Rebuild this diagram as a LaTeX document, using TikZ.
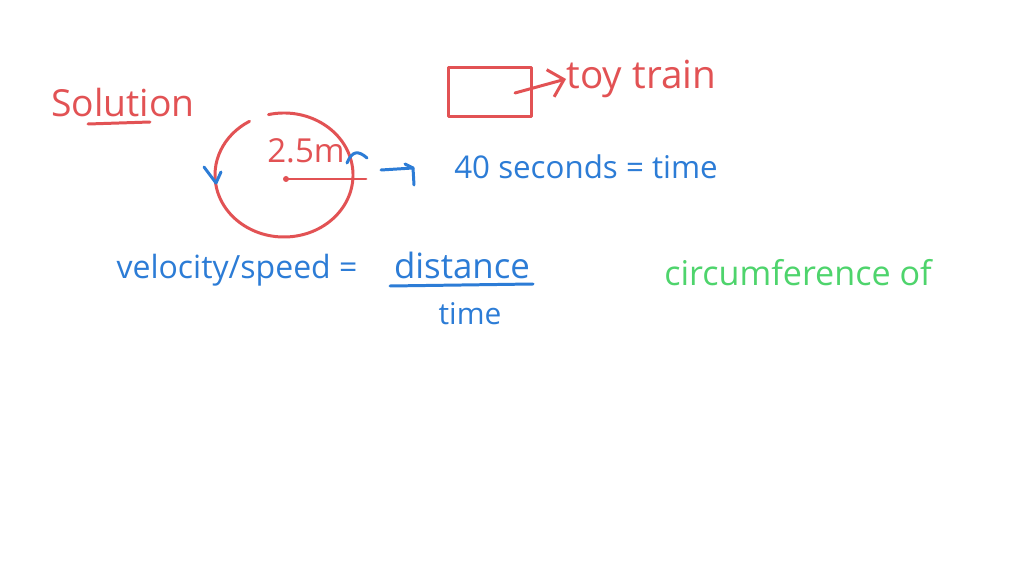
\documentclass[tikz,border=0pt]{standalone}
\usepackage{fontspec}
\setmainfont{Open Sans}
\usetikzlibrary{arrows.meta}
\definecolor{penred}{RGB}{226,82,84}
\definecolor{penblue}{RGB}{44,124,214}
\definecolor{pengreen}{RGB}{78,212,108}
\begin{document}
\begin{tikzpicture}[x=0.01cm, y=-0.01cm, line cap=round, line join=round,
    ink/.style={line width=0.85pt},
    word/.style={inner sep=0pt, anchor=center}]
    \useasboundingbox[fill=white] (0,0) rectangle (1024,576);

    % Heading
    \node[word, text=penred, font=\fontsize{10.6}{13}\selectfont] (sol) at (123,103) {Solution};
    \draw[ink, penred] (88,124) -- (150,122);

    % Track of the train
    \coordinate (ctr) at (286,179);
    \coordinate (rim) at (366,179);
    \draw[ink, penred] (284,175) ++(257:69 and 62) arc[start angle=257, end angle=600, x radius=69, y radius=62];
    \fill[penred] (ctr) circle (3);
    \draw[ink, penred] (ctr) -- (rim);
    \node[word, text=penred, font=\fontsize{9.4}{12}\selectfont] (rad) at (306,151) {2.5m};
    \draw[ink, penblue] (204,167) -- (216,183) -- (221,172);
    \draw[ink, penblue] (347,163) .. controls (352,151) and (358,150) .. (367,158);

    % Time taken
    \node[word, text=penblue, font=\fontsize{8.9}{11}\selectfont] (secs) at (586,167) {40 seconds = time};
    \coordinate (go) at (381,170);
    \coordinate (tip) at (413,168);
    \draw[ink, penblue] (go) -- (tip) -- ++(1,17);
    \draw[ink, penblue] (405,164) -- (tip);

    % Toy train
    \node[ink, draw=penred, minimum width=0.83cm, minimum height=0.49cm] (box) at (490,92) {};
    \coordinate (tail) at (515,93);
    \node[word, text=penred, font=\fontsize{11}{13}\selectfont, anchor=west] (toy) at (566,79) {toy train};
    \draw[ink, penred, -{Straight Barb[length=4pt]}] (tail) -- (toy.west);

    % Formula
    \node[word, text=penblue, font=\fontsize{9.1}{11}\selectfont] (vel) at (237,270) {velocity/speed =};
    \node[word, text=penblue, font=\fontsize{9.9}{12}\selectfont] (dist) at (462,265) {distance};
    \node[word, text=penblue, font=\fontsize{8.5}{11}\selectfont] (tm) at (470,314) {time};
    \draw[ink, penblue] (390,286) -- (533,284);

    % Next step
    \node[word, text=pengreen, font=\fontsize{9.7}{12}\selectfont] (circ) at (798,273) {circumference of};
\end{tikzpicture}
\end{document}
